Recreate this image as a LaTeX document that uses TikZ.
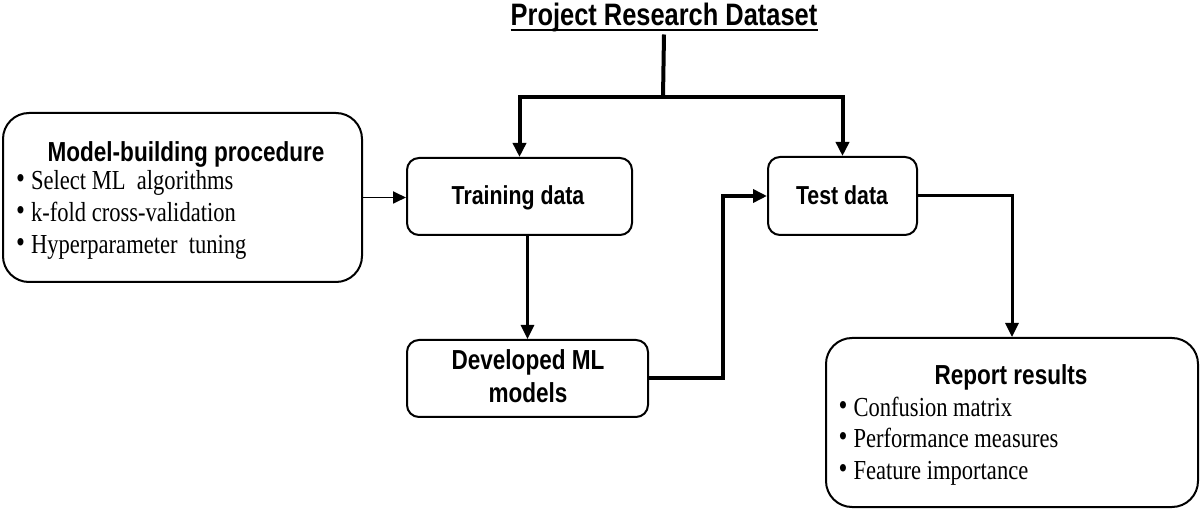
\documentclass[tikz,border=0pt]{standalone}
\usepackage{fontspec}
\setmainfont{Liberation Serif}
\newfontfamily\hfont[FakeStretch=0.82]{Liberation Sans}
\newfontfamily\sfont[FakeStretch=0.82]{Liberation Serif}
\usetikzlibrary{arrows.meta}
\newcommand{\blt}{\raisebox{1.5pt}{\fontsize{31}{31}\selectfont\textbullet}\hspace{6pt}}
\tikzset{
  box/.style={draw, line width=2pt, rounded corners=12pt, inner sep=0pt},
  bigbox/.style={box, rounded corners=26pt},
  head/.style={font=\hfont\bfseries\fontsize{27.5}{27.5}\selectfont, inner sep=0pt, anchor=base},
  smallhead/.style={font=\hfont\bfseries\fontsize{26}{26}\selectfont, inner sep=0pt, anchor=base},
  item/.style={font=\sfont\fontsize{27.5}{27.5}\selectfont, inner sep=0pt, anchor=base west},
  thickarrow/.style={line width=4pt, -{Triangle[length=14pt,width=13pt]}},
  midarrow/.style={line width=3pt, -{Triangle[length=14pt,width=13pt]}},
  thinarrow/.style={line width=1.8pt, -{Triangle[length=13pt,width=12pt]}},
  thickline/.style={line width=4pt}
}
\begin{document}
\begin{tikzpicture}[x=1pt,y=-1pt]
\useasboundingbox (0,0) rectangle (1200,510);
% title
\node[font=\hfont\bfseries\fontsize{31}{31}\selectfont, inner sep=0pt, anchor=base] (title) at (664,25.5) {Project Research Dataset};
\draw[line width=2.5pt] ([yshift=-4.5pt]title.base west) -- ([yshift=-4.5pt]title.base east);
% boxes
\node[bigbox, minimum width=359pt, minimum height=169pt] (model) at (182.5,197.5) {};
\node[box, minimum width=225pt, minimum height=77pt] (train) at (519.5,196.5) {};
\node[box, minimum width=149pt, minimum height=78pt] (test) at (842.5,196) {};
\node[box, minimum width=241pt, minimum height=77pt] (dev) at (527.5,378.5) {};
\node[bigbox, minimum width=372pt, minimum height=169pt] (report) at (1012,422.5) {};
% texts
\node[head] (mh) at (186,162) {Model-building procedure};
\node[item] (m1) at (16,190) {\blt Select ML\ \ algorithms};
\node[item] (m2) at (16,222) {\blt k-fold cross-validation};
\node[item] (m3) at (16,254) {\blt Hyperparameter\ \ tuning};
\node[smallhead] (tt) at (518,205) {Training data};
\node[smallhead] (et) at (842,205) {Test data};
\node[head] (d1) at (528,370) {Developed ML};
\node[head] (d2) at (528,403) {models};
\node[head] (rh) at (1011,385) {Report results};
\node[item] (r1) at (838.5,417) {\blt Confusion matrix};
\node[item] (r2) at (838.5,448) {\blt Performance measures};
\node[item] (r3) at (838.5,480) {\blt Feature importance};
% connectors
\coordinate (split) at (663,97);
\draw[thickline] ([yshift=-9pt]title.base) -- (split);
\draw[thickarrow] (split) -| (train.north);
\draw[thickarrow] (split) -| (test.north);
\draw[thinarrow] (model.east) -- (model.east -| train.west);
\draw[midarrow] (train.south -| dev.north) -- (dev.north);
\draw[thickarrow] (dev.east) -- ++(74,0) |- (test.west);
\draw[midarrow] (test.east) -| (report.north);
\end{tikzpicture}
\end{document}
